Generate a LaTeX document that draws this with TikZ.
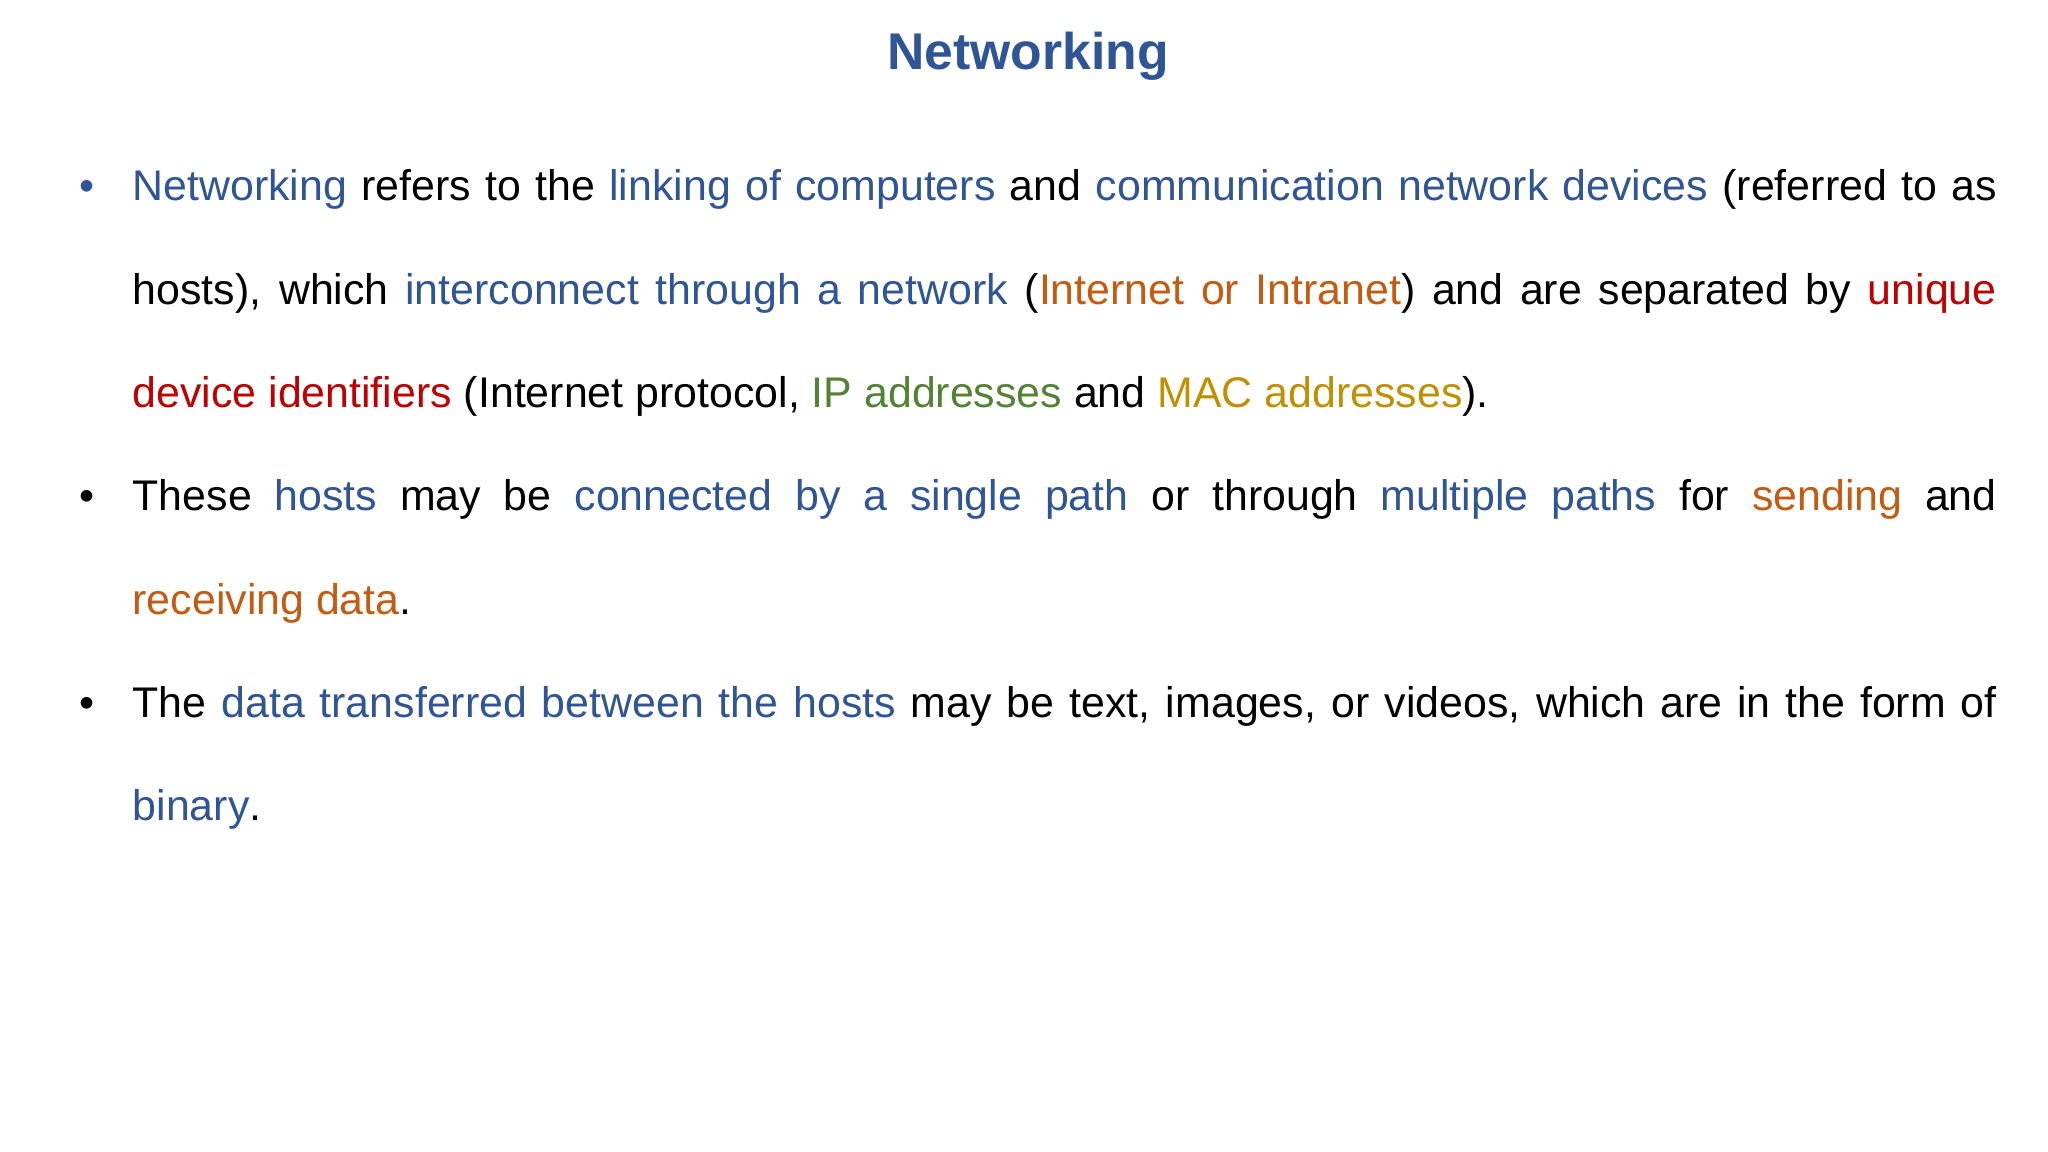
\documentclass[tikz,border=0pt]{standalone}
\usepackage{fontspec}
\setmainfont{Liberation Sans}
\definecolor{tblue}{HTML}{2F5597}
\definecolor{torange}{HTML}{C55A11}
\definecolor{tred}{HTML}{C00000}
\definecolor{tgreen}{HTML}{548235}
\definecolor{tgold}{HTML}{BF9000}
\newcommand{\cb}[1]{\textcolor{tblue}{#1}}
\newcommand{\co}[1]{\textcolor{torange}{#1}}
\newcommand{\bul}[1]{\noindent\llap{\textcolor{#1}{\textbullet}\hspace{0.38cm}}}
\begin{document}
\begin{tikzpicture}[x=1cm,y=1cm,
  title/.style={font=\fontsize{14.7}{17}\selectfont\bfseries, text=tblue, inner sep=0},
  body/.style={anchor=north west, inner sep=0, text width=18.64cm, align=justify,
    font=\fontsize{12.2}{29.4}\selectfont}]
\useasboundingbox (0,0) rectangle (20.48,-11.52);
\node[title, anchor=base] (t) at (10.28,-0.70) {Networking};
\node[body] (b) at (1.32,-1.00) {\rule{0pt}{1cm}%
\bul{tblue}\cb{Networking} refers to the \cb{linking of computers} and \cb{communication network devices} (referred to as\linebreak
hosts), which \cb{interconnect through a network} (\co{Internet or Intranet}) and are separated by \textcolor{tred}{unique}\linebreak
\textcolor{tred}{device identifiers} (Internet protocol, \textcolor{tgreen}{IP addresses} and \textcolor{tgold}{MAC addresses}).\par
\bul{black}These \cb{hosts} may be \cb{connected by a single path} or through \cb{multiple paths} for \co{sending} and\linebreak
\co{receiving data}.\par
\bul{black}The \cb{data transferred between the hosts} may be text, images, or videos, which are in the form of\linebreak
\cb{binary}.\par};
\end{tikzpicture}
\end{document}
